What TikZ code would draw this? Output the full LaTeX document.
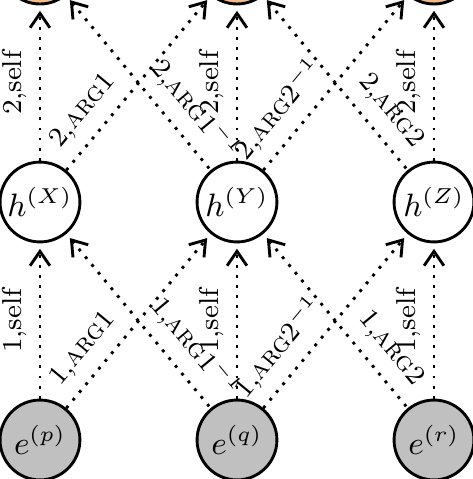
\documentclass[tikz,border=0pt]{standalone}
\usepackage{tikz}
\usetikzlibrary{arrows.meta}
\definecolor{topfill}{HTML}{F6BA86}
\definecolor{embfill}{HTML}{C0C0C0}

\begin{document}
\begin{tikzpicture}[x=1.924cm,y=2.324cm,
  unit/.style={circle,draw,thick,minimum size=0.78cm,inner sep=0pt,font=\small},
  rel/.style={thick,dotted,>={Straight Barb[length=4pt,width=5.5pt]}},
  fwd/.style={rel,->,shorten >=1.5pt},
  back/.style={rel,<-,shorten <=1.5pt},
  lab/.style={font=\fontsize{7.6}{9}\selectfont,sloped,above,pos=#1},lab/.default=0.5]
\useasboundingbox (-0.203,-0.164) rectangle (2.197,1.849);
% three layers: entities, hidden states, outputs
\foreach \n/\t/\x in {p/X/0,q/Y/1,r/Z/2}{
  \node[unit,fill=embfill] (e\n) at (\x,0) {$e^{(\n)}$};
  \node[unit] (h\t) at (\x,1) {$h^{(\t)}$};
  \node[unit,fill=topfill] (o\t) at (\x,2) {};
}
\foreach \n/\t in {p/X,q/Y,r/Z}{
  \draw[fwd] (e\n) -- node[lab]{1,self} (h\t);
  \draw[fwd] (h\t) -- node[lab]{2,self} (o\t);
}
% up-right edges
\foreach \a/\b/\l in {p/Y/1,q/Z/2$^{-1}$}
  {\draw[fwd] (e\a) -- node[lab=0.25]{1,\textsc{arg}\l} (h\b);}
\foreach \a/\b/\l in {X/Y/1,Y/Z/2$^{-1}$}
  {\draw[fwd] (h\a) -- node[lab=0.25]{2,\textsc{arg}\l} (o\b);}
% up-left edges, drawn from the tip so the text stays upright
\foreach \a/\b/\l in {q/X/1$^{-1}$,r/Y/2}
  {\draw[back] (h\b) -- node[lab=0.75]{1,\textsc{arg}\l} (e\a);}
\foreach \a/\b/\l in {Y/X/1$^{-1}$,Z/Y/2}
  {\draw[back] (o\b) -- node[lab=0.75]{2,\textsc{arg}\l} (h\a);}
\end{tikzpicture}
\end{document}
